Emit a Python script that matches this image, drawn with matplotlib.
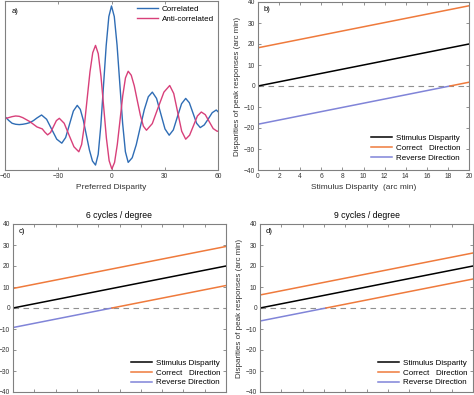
import matplotlib
matplotlib.use("Agg")
import matplotlib.pyplot as plt

plt.rcParams['font.family'] = ['Liberation Sans', 'DejaVu Sans']

# panel a: population response vs preferred disparity
corr_x = [-60, -58, -56, -54, -52, -50, -48, -46, -44, -42, -39.4,
          -36.55, -33.7, -30.85, -28, -25.83, -23.65, -21.48, -19.3,
          -17.58, -15.87, -14.15, -12.43, -10.72, -9,
          -7.5, -6, -4.5, -3, -1.5, 0,
          1.57, 3.13, 4.7, 6.27, 7.83, 9.4,
          11.67, 13.93, 16.2, 18.47, 20.73, 23,
          25.38, 27.75, 30.13, 32.5, 34.83, 37.15, 39.48, 41.8,
          43.85, 45.9, 47.95, 50, 52.25, 54.5, 56.75, 59, 60]
corr_y = [0.03, -0.08, -0.17, -0.20, -0.21, -0.20, -0.18, -0.15, -0.09, -0.01, 0.08,
          -0.05, -0.35, -0.65, -0.77, -0.60, -0.20, 0.20, 0.37,
          0.25, -0.08, -0.53, -0.98, -1.31, -1.43,
          -1.11, -0.23, 0.97, 2.17, 3.05, 3.37,
          3.05, 2.19, 1.01, -0.17, -1.03, -1.35,
          -1.21, -0.82, -0.29, 0.24, 0.63, 0.77,
          0.58, 0.12, -0.34, -0.53, -0.37, 0.03, 0.42, 0.58,
          0.45, 0.14, -0.17, -0.30, -0.22, -0.04, 0.15, 0.23, 0.18]

anti_x = [-60, -58, -56, -54, -52, -50, -48, -46, -44, -42, -40.5, -39, -37.5, -36,
          -34.35, -32.7, -31.05, -29.4, -26.65, -23.9, -21.15, -18.4,
          -16.83, -15.27, -13.7, -12.13, -10.57, -9,
          -7.47, -5.93, -4.4, -2.87, -1.33, 0.2,
          1.73, 3.27, 4.8, 6.33, 7.87, 9.4,
          11.12, 12.83, 14.55, 16.27, 17.98, 19.7,
          22.98, 26.25, 29.53, 32.8, 35.05, 37.3, 39.55, 41.8,
          44.0, 46.2, 48.4, 50.6, 52.83, 55.05, 57.28, 59.5, 60]
anti_y = [-0.03, 0.00, 0.03, 0.05, 0.04, 0.00, -0.06, -0.12, -0.20, -0.28, -0.31, -0.34, -0.44, -0.52,
          -0.45, -0.27, -0.09, -0.02, -0.17, -0.53, -0.88, -1.03,
          -0.81, -0.23, 0.58, 1.38, 1.96, 2.18,
          1.93, 1.25, 0.32, -0.62, -1.30, -1.55,
          -1.35, -0.81, -0.08, 0.66, 1.20, 1.40,
          1.28, 0.96, 0.51, 0.07, -0.26, -0.38,
          -0.18, 0.30, 0.77, 0.97, 0.73, 0.16, -0.41, -0.65,
          -0.53, -0.24, 0.05, 0.17, 0.09, -0.12, -0.33, -0.41, -0.41]

# panels b-d: stimulus disparity and offset of the peak responses
stim = [0, 20]
offsets = [18.2, 9.3, 6.2]
panel_labels = ['b)', 'c)', 'd)']
titles = [None, '6 cycles / degree', '9 cycles / degree']

BLUE = '#2f6db5'
PINK = '#d8407a'
ORANGE = '#ef7a3c'
PURPLE = '#8084d8'
FRAME = '#808080'

W, H = 474, 395


def box(l, t, r, b):
    return [l / W, 1 - b / H, (r - l) / W, (b - t) / H]


def style(ax):
    for s in ax.spines.values():
        s.set_color(FRAME)
        s.set_linewidth(0.8)
    ax.tick_params(direction='in', length=2.5, width=0.6, color=FRAME,
                   labelsize=4.8, labelcolor='#333333', top=True, right=True, pad=2)


fig = plt.figure(figsize=(W / 100, H / 100), dpi=100)

# panel a
ax = fig.add_axes(box(5, 1, 218, 170))
ax.plot(corr_x, corr_y, color=BLUE, lw=1.0, label='Correlated')
ax.plot(anti_x, anti_y, color=PINK, lw=1.0, label='Anti-correlated')
ax.set_xlim(-60, 60)
ax.set_ylim(-1.58, 3.52)
ax.set_xticks([-60, -30, 0, 30, 60])
ax.set_yticks([])
style(ax)
ax.set_xlabel('Preferred Disparity', fontsize=6, color='#333333', labelpad=3)
ax.text(0.03, 0.96, 'a)', transform=ax.transAxes, fontsize=5.5, va='top')
ax.legend(loc='upper right', fontsize=5.8, frameon=False, handlelength=2.6,
          borderaxespad=0.1, labelspacing=0.3, handletextpad=0.5)

positions = [box(258, 2, 469, 170), box(13, 224, 226, 392), box(260, 224, 473, 392)]
legend_pad = [0.65, 0.3, 0.3]

for i, off in enumerate(offsets):
    ax = fig.add_axes(positions[i])
    ax.axhline(0, color='#909090', lw=0.8, ls=(0, (5, 4)))
    ax.plot(stim, stim, color='black', lw=1.1, label='Stimulus Disparity')
    ax.plot(stim, [s + off for s in stim], color=ORANGE, lw=1.1, label='Correct   Direction')
    ax.plot([stim[0], off], [stim[0] - off, 0], color=PURPLE, lw=1.1, label='Reverse Direction')
    ax.plot([off, stim[1]], [0, stim[1] - off], color=ORANGE, lw=1.1)
    ax.set_xlim(0, 20)
    ax.set_ylim(-40, 40)
    ax.set_xticks(range(0, 21, 2))
    ax.set_yticks(range(-40, 41, 10))
    style(ax)
    ax.text(0.025, 0.975, panel_labels[i], transform=ax.transAxes, fontsize=5.5, va='top')
    ax.legend(loc='lower right', fontsize=5.8, frameon=False, handlelength=2.6,
              borderaxespad=legend_pad[i], labelspacing=0.25, handletextpad=0.5)
    if titles[i]:
        ax.set_title(titles[i], fontsize=6.2, pad=4)
    if i == 0:
        ax.set_xlabel('Stimulus Disparity  (arc min)', fontsize=6, color='#333333', labelpad=3)
    else:
        # the bottom row is cropped right at its x axis in the reference
        ax.tick_params(labelbottom=False)
    if i != 1:
        ax.set_ylabel('Disparities of peak responses (arc min)', fontsize=5.8,
                      color='#333333', labelpad=2)

fig.savefig('out.png', dpi=100)
